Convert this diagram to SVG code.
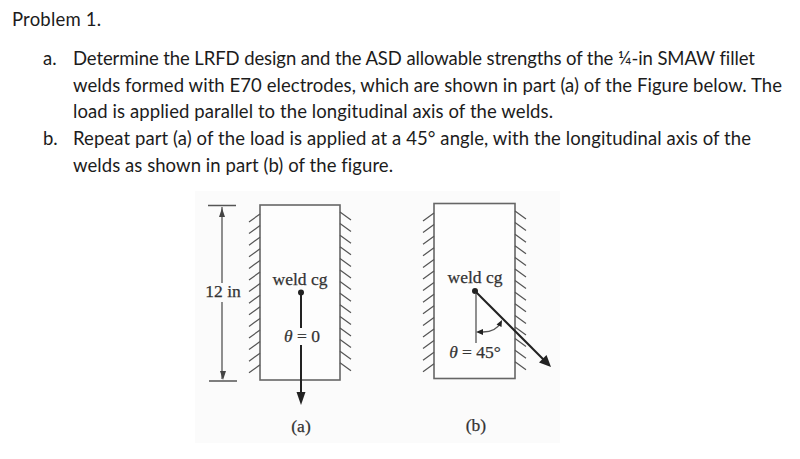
<svg xmlns="http://www.w3.org/2000/svg" width="800" height="459" viewBox="0 0 800 459">
<style>
.t{font-family:"Lato","Noto Sans","Liberation Sans",sans-serif;font-size:18.5px;fill:#1c1c1c;font-variant-ligatures:none}
.f{font-family:"Liberation Serif",serif;font-size:17.5px;fill:#333;text-anchor:middle;stroke:#333;stroke-width:.25}
.i{font-style:italic}
.p{fill:#fdfdfd;stroke:#666;stroke-width:1.6}
.h{fill:none;stroke:#555;stroke-width:1.2}
.l{fill:none;stroke:#555;stroke-width:1.3}
.d{fill:none;stroke:#222;stroke-width:2}
.a{fill:#222;stroke:none}
.dim{fill:#444;stroke:none}
</style>
<defs>
<path id="hl" d="M0 0l-11 8M0 11.600l-11 8M0 23.200l-11 8M0 34.800l-11 8M0 46.400l-11 8M0 58l-11 8M0 69.600l-11 8M0 81.200l-11 8M0 92.800l-11 8M0 104.400l-11 8M0 116l-11 8M0 127.600l-11 8M0 139.200l-11 8M0 150.800l-11 8"/>
<path id="hr" d="M0 0l11 8M0 11.600l11 8M0 23.200l11 8M0 34.800l11 8M0 46.400l11 8M0 58l11 8M0 69.600l11 8M0 81.200l11 8M0 92.800l11 8M0 104.400l11 8M0 116l11 8M0 127.600l11 8M0 139.200l11 8M0 150.800l11 8"/>
</defs>
<rect width="800" height="459" fill="#fff"/>
<rect x="195" y="191" width="365" height="252" fill="#fbfbfb"/>
<g id="problem-text">
<text class="t" x="12" y="26" textLength="89">Problem 1.</text>
<text class="t" x="43" y="65">a.</text>
<text class="t" x="73" y="65" textLength="682">Determine the LRFD design and the ASD allowable strengths of the ¼-in SMAW fillet</text>
<text class="t" x="73" y="92" textLength="709">welds formed with E70 electrodes, which are shown in part (a) of the Figure below. The</text>
<text class="t" x="73" y="118" textLength="480">load is applied parallel to the longitudinal axis of the welds.</text>
<text class="t" x="43" y="145">b.</text>
<text class="t" x="73" y="145" textLength="678">Repeat part (a) of the load is applied at a 45° angle, with the longitudinal axis of the</text>
<text class="t" x="73" y="172" textLength="320">welds as shown in part (b) of the figure.</text>
</g>
<g id="plate-a">
<rect class="p" x="260" y="205" width="80" height="175"/>
<use href="#hl" class="h" x="260" y="214"/>
<use href="#hr" class="h" x="340" y="212"/>
<text class="f" x="300" y="285">weld cg</text>
<text class="f" x="223" y="297">12 in</text>
<text class="f" x="302" y="342"><tspan class="i">θ</tspan> = 0</text>
<circle cx="301" cy="292.500" r="3" fill="#222"/>
</g>
<g id="plate-b">
<rect class="p" x="434" y="203.500" width="81" height="175"/>
<use href="#hl" class="h" x="434" y="213"/>
<use href="#hr" class="h" x="515" y="211"/>
<text class="f" x="475" y="283">weld cg</text>
<text class="f" x="475" y="358"><tspan class="i">θ</tspan> = 45°</text>
<circle cx="475" cy="291" r="3" fill="#222"/>
</g>
<g id="labels">
<text class="f" x="301" y="432">(a)</text>
<text class="f" x="476" y="431">(b)</text>
</g>
<g id="connectors">
<path class="l" d="M208 205.500H236M209 381H237M222 207V283M222 302V379"/>
<path class="dim" d="M222 208l-3 9h6zM223 380l-3-9h6z"/>
<path class="d" d="M301 292V328M301 345V392"/>
<path class="a" d="M301 405l-4.500-13h9z"/>
<path class="l" d="M476 292V343"/>
<path class="d" d="M475 291L545 361"/>
<path class="a" d="M551 367l-12-4.500 7.500-7.500z"/>
<path class="l" d="M483 332Q496 332 501 322"/>
<path class="a" d="M476 332l7-3v6zM502 320l-0.500 7-5-2.500z"/>
</g>
</svg>
